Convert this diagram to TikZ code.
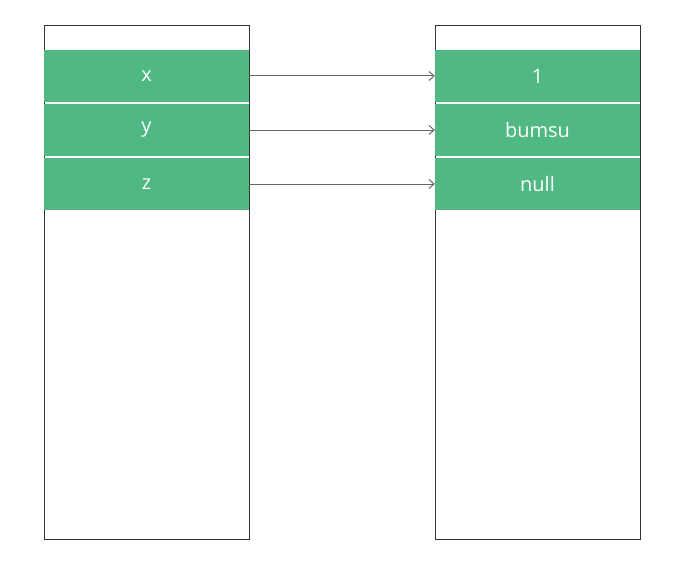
\documentclass[tikz,border=0pt]{standalone}
\usepackage{fontspec}
\setmainfont{Open Sans}
\definecolor{cellgreen}{HTML}{4FB883}
\begin{document}
\begin{tikzpicture}[x=1pt,y=-1pt,
  frame/.style={draw=black!80,line width=0.8pt},
  cell/.style={fill=cellgreen,draw=none,minimum width=205pt,minimum height=52pt,inner sep=0pt,text=white,font=\fontsize{20}{24}\selectfont},
  link/.style={draw=black!60,line width=1pt,-{Straight Barb[length=5pt,width=9pt]}}]
\usetikzlibrary{arrows.meta}
\useasboundingbox (0,0) rectangle (682,567);
\draw[frame] (44,25) rectangle (249,539);
\draw[frame] (435,25) rectangle (640,539);
\node[cell] (x) at (146.5,76) {x};
\node[cell] (y) at (146.5,130) {y};
\node[cell] (z) at (146.5,184) {z};
\node[cell] (v1) at (537.5,76) {1};
\node[cell] (v2) at (537.5,130) {bumsu};
\node[cell] (v3) at (537.5,184) {null};
\draw[link] (x.east) -- (v1.west);
\draw[link] (y.east) -- (v2.west);
\draw[link] (z.east) -- (v3.west);
\end{tikzpicture}
\end{document}
